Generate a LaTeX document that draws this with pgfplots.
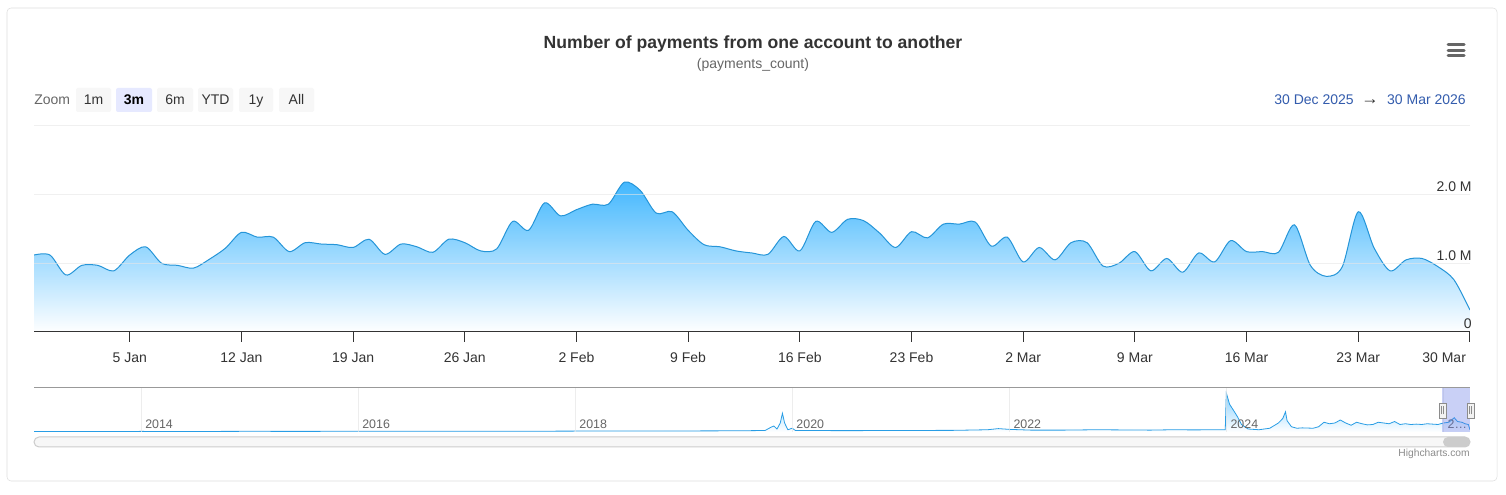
\documentclass[border=0pt]{standalone}
\usepackage{pgfplots}
\pgfplotsset{compat=1.18}
\usepackage{pgfplotstable}
\usepackage{fontspec}
\setmainfont{Liberation Sans}

\definecolor{hcblue}{HTML}{2CAFFE}
\definecolor{txt}{HTML}{333333}
\definecolor{sub}{HTML}{666666}
\definecolor{gridc}{HTML}{E6E6E6}
\definecolor{btn}{HTML}{F7F7F7}
\definecolor{btnsel}{HTML}{E6E9FF}
\definecolor{rangec}{HTML}{335CAD}
\definecolor{maskc}{HTML}{6679E6}

% daily payments, day 0 = 30 Dec 2025, values in millions
\pgfplotstableread{
day val
0 1.12
1 1.12
2 0.83
3 0.97
4 0.97
5 0.89
6 1.12
7 1.24
8 1.00
9 0.97
10 0.93
11 1.06
12 1.22
13 1.45
14 1.38
15 1.38
16 1.17
17 1.30
18 1.28
19 1.27
20 1.23
21 1.35
22 1.13
23 1.28
24 1.24
25 1.16
26 1.35
27 1.30
28 1.18
29 1.21
30 1.61
31 1.48
32 1.88
33 1.69
34 1.78
35 1.86
36 1.86
37 2.18
38 2.06
39 1.73
40 1.75
41 1.48
42 1.27
43 1.24
44 1.18
45 1.15
46 1.13
47 1.39
48 1.18
49 1.61
50 1.45
51 1.64
52 1.62
53 1.44
54 1.23
55 1.46
56 1.37
57 1.57
58 1.57
59 1.60
60 1.25
61 1.38
62 1.02
63 1.23
64 1.05
65 1.30
66 1.30
67 0.96
68 1.00
69 1.17
70 0.89
71 1.07
72 0.87
73 1.15
74 1.02
75 1.33
76 1.17
77 1.17
78 1.16
79 1.56
80 0.97
81 0.81
82 0.95
83 1.75
84 1.22
85 0.89
86 1.05
87 1.07
88 0.95
89 0.76
90 0.32
}\maintable

% navigator, whole history (years since 2013, millions)
\pgfplotstableread{
yr val
0.014 0.05
0.5 0.06
1.0 0.08
1.5 0.07
2.0 0.09
2.5 0.08
3.0 0.10
3.5 0.09
4.0 0.11
4.5 0.10
5.0 0.12
5.5 0.12
6.0 0.14
6.5 0.16
6.75 0.20
6.80 0.60
6.83 0.80
6.86 0.40
6.89 1.20
6.91 2.50
6.93 1.20
6.96 0.30
7.0 0.50
7.03 0.20
7.5 0.18
8.0 0.20
8.5 0.22
8.8 0.30
8.9 0.45
9.0 0.35
9.2 0.25
9.5 0.25
9.8 0.30
10.0 0.28
10.3 0.25
10.5 0.30
10.7 0.28
10.9 0.30
10.99 0.30
11.0 5.20
11.03 3.70
11.07 2.80
11.10 2.10
11.14 1.00
11.20 0.40
11.30 0.30
11.40 0.50
11.48 1.20
11.52 1.80
11.545 2.70
11.56 1.50
11.60 0.70
11.65 0.50
11.70 0.55
11.80 0.50
11.85 0.70
11.90 1.30
11.95 1.10
12.00 1.20
12.05 1.60
12.10 1.20
12.15 0.90
12.20 1.30
12.25 1.10
12.30 0.95
12.35 1.00
12.40 1.30
12.45 1.20
12.50 1.10
12.55 1.40
12.60 1.00
12.65 1.10
12.70 1.00
12.75 1.05
12.80 1.00
12.85 1.10
12.90 1.05
12.95 1.00
13.00 1.20
13.05 1.30
13.10 1.90
13.13 1.40
13.17 1.30
13.20 1.10
13.23 1.00
13.245 0.30
}\navtable

\begin{document}
\begin{tikzpicture}[x=0.75pt,y=0.75pt]
\path (0,0) rectangle (1506,495);
\draw[draw=black!13, fill=white, rounded corners=3pt] (7,14) rectangle (1497,487);

% title
\node[anchor=base, font=\bfseries\fontsize{13.2}{15}\selectfont, text=txt] at (753,446.5) {Number of payments from one account to another};
\node[anchor=base, font=\fontsize{10.5}{12}\selectfont, text=sub] at (753,426) {(payments\_count)};

% menu icon
\foreach \yy in {450,444.3,439}
  \draw[sub, line width=2.25pt, line cap=round] (1448,\yy) -- (1464,\yy);

% zoom buttons
\begin{scope}[font=\fontsize{10.5}{12}\selectfont]
\node[anchor=base west, text=sub, inner sep=0pt] at (34,390) {Zoom};
\foreach \xa/\xb/\lab in {76/111/1m,157/193/6m,198/233/YTD,239/273/1y,279/314/All}{
  \fill[btn, rounded corners=1.5pt] (\xa,383) rectangle (\xb,407);
  \node[anchor=base, text=txt, inner sep=0pt] at ({(\xa+\xb)/2},390) {\lab};
}
\fill[btnsel, rounded corners=1.5pt] (116,383) rectangle (152,407);
\node[anchor=base, text=black, inner sep=0pt, font=\bfseries\fontsize{10.5}{12}\selectfont] at (134,390) {3m};
\node[anchor=base east, text=rangec, inner sep=0pt] at (1354,390) {30 Dec 2025};
\node[anchor=base, text=txt, inner sep=0pt, font=\fontsize{13}{14}\selectfont] at (1370,390) {→};
\node[anchor=base east, text=rangec, inner sep=0pt] at (1466,390) {30 Mar 2026};
\end{scope}

% main chart
\begin{axis}[
  axis on top,
  at={(25.5pt,122.25pt)}, anchor=south west,
  scale only axis, width=1077pt, height=154.6pt,
  xmin=0, xmax=90, ymin=0, ymax=3,
  axis x line*=bottom, axis y line*=right,
  x axis line style={draw=txt, line width=0.75pt},
  y axis line style={draw=none},
  xtick={6,13,...,90},
  xticklabels={5 Jan,12 Jan,19 Jan,26 Jan,2 Feb,9 Feb,16 Feb,23 Feb,2 Mar,9 Mar,16 Mar,23 Mar,\makebox[0pt][r]{30 Mar\hspace{3pt}}},
  xtick align=outside,
  x tick style={draw=txt, line width=0.75pt},
  major tick length=7.5pt,
  ytick={0,1,2,3}, yticklabels={0,1.0 M,2.0 M,{}},
  y tick style={draw=none},
  ymajorgrids, grid style={draw=gridc, line width=0.75pt, draw opacity=0.6},
  tick label style={font=\fontsize{10.5}{12}\selectfont, text=txt},
  /pgf/number format/assume math mode=true,
  xticklabel style={anchor=base, yshift=-15.75pt},
  yticklabel style={anchor=base east, inner sep=0pt, yshift=2.25pt, xshift=1.5pt},
]
\addplot[draw=none, smooth, tension=0.5, top color=hcblue, bottom color=white, fill opacity=0.9, forget plot]
  table[x=day, y=val] {\maintable} \closedcycle;
\addplot[draw=hcblue!85!black, line width=0.75pt, smooth, tension=0.5, mark=none]
  table[x=day, y=val] {\maintable};
\end{axis}

% navigator
\begin{axis}[
  axis on top,
  at={(25.5pt,47.25pt)}, anchor=south west,
  scale only axis, width=1077pt, height=33pt,
  xmin=0.014, xmax=13.245, ymin=0, ymax=5.87,
  axis line style={draw=none},
  xtick={1,3,...,13},
  xticklabels={2014,2016,2018,2020,2022,2024,2…},
  ytick=\empty,
  major tick length=0pt,
  xmajorgrids, grid style={draw=gridc, line width=0.75pt, draw opacity=0.7},
  xticklabel style={anchor=base west, inner sep=0pt, xshift=3pt, yshift=2.85pt, font=\fontsize{9.3}{11}\selectfont, text=sub},
]
\addplot[draw=none, top color=hcblue!70, bottom color=white, fill opacity=0.8, forget plot]
  table[x=yr, y=val] {\navtable} \closedcycle;
\addplot[draw=hcblue!90!black, line width=0.6pt, mark=none]
  table[x=yr, y=val] {\navtable};
\end{axis}

% navigator mask, outline and handles
\fill[maskc, fill opacity=0.35] (1442,63) rectangle (1470,107);
\draw[black!40, line width=0.75pt] (34,107) -- (1470,107);
\foreach \hx in {1439,1467}{
  \draw[black!45, fill=black!5, line width=0.6pt] (\hx,77) rectangle ({\hx+7},92);
  \draw[black!45, line width=0.5pt] ({\hx+2.5},80.5) -- ({\hx+2.5},88.5) ({\hx+4.5},80.5) -- ({\hx+4.5},88.5);
}

% scrollbar
\draw[black!20, fill=black!3, rounded corners=3.75pt, line width=0.75pt] (34,48) rectangle (1470,58);
\fill[black!20, rounded corners=3.75pt] (1443,48) rectangle (1470,58);

\node[anchor=base east, inner sep=0pt, font=\fontsize{7.7}{9}\selectfont, text=black!45] at (1470,38) {Highcharts.com};
\end{tikzpicture}
\end{document}
